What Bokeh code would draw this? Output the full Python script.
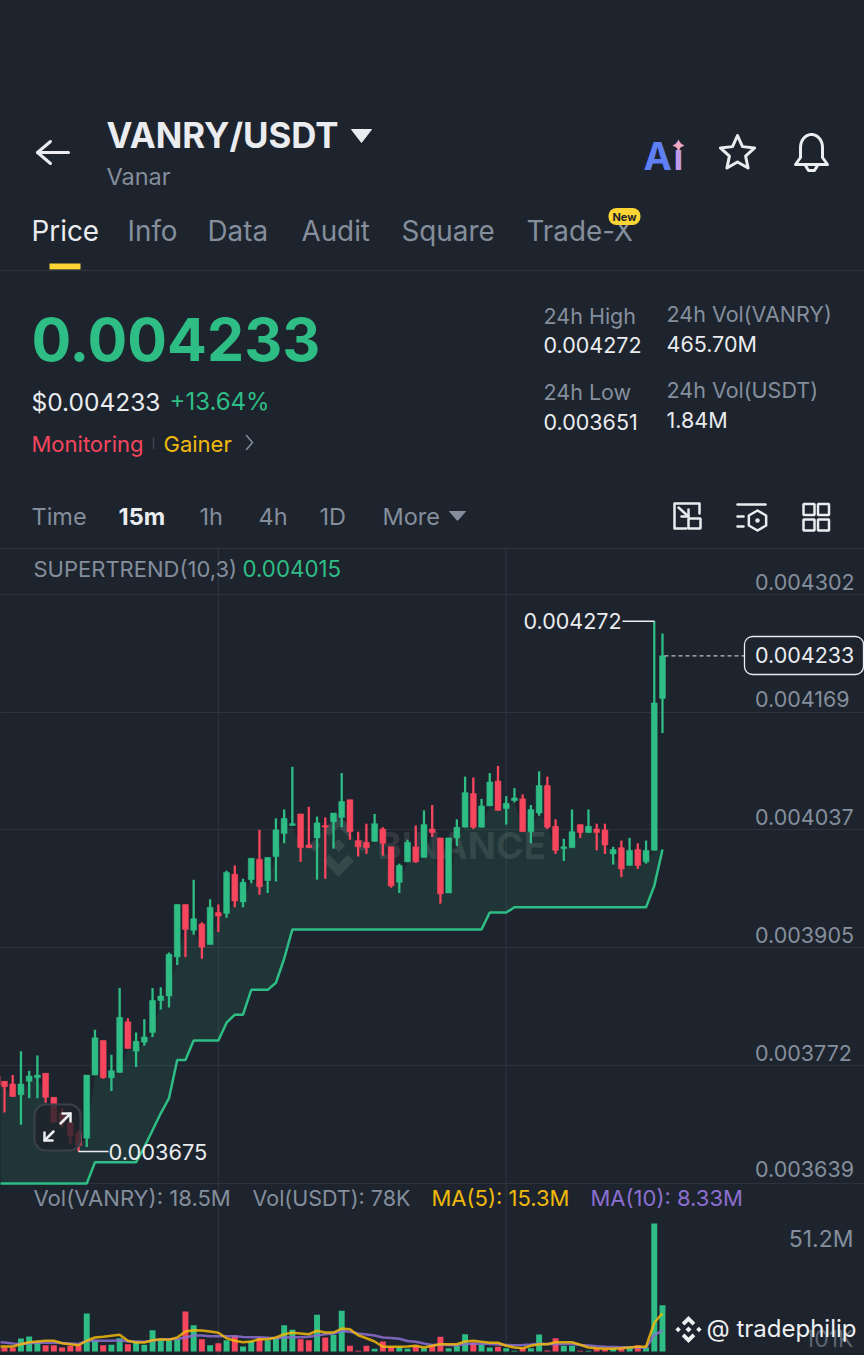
import numpy as np
from bokeh.plotting import figure
from bokeh.models import Range1d, ColumnDataSource, Grid, FixedTicker, GlobalInlineStyleSheet
from bokeh.core.properties import value
from bokeh.embed import file_html
from bokeh.resources import INLINE

# prices are in millionths of USDT, candle -1 lies just off the left edge
opens = [3760,3754,3751,3739,3754,3758,3763,3736,3718,3708,3696,3690,3761,3800,3758,3764,3821,3788,3798,3809,3845,3850,3894,3953,3924,3931,3908,3944,3943,3987,3956,3981,4004,3980,4007,4033,4042,4055,4020,4028,4042,4046,4051,4071,4025,4023,4024,4038,4018,3978,4001,4018,4006,4038,4028,3966,4028,4040,4078,4040,4064,4092,4061,4070,4072,4035,4056,4087,4041,4016,4017,4043,4034,4038,4037,4010,4017,3997,4015,4001,4014,4185]
highs = [3770,3754,3761,3788,3766,3783,3763,3736,3724,3708,3699,3761,3812,3800,3784,3859,3825,3809,3824,3859,3860,3899,3953,3953,3981,3933,3959,3953,3991,3997,3982,4005,4037,4006,4050,4060,4108,4055,4063,4052,4051,4056,4101,4071,4035,4044,4055,4040,4018,3999,4026,4042,4059,4065,4028,4028,4049,4097,4096,4072,4101,4109,4075,4084,4077,4065,4103,4097,4049,4027,4060,4043,4060,4044,4044,4018,4025,4028,4022,4025,4272,4258]
lows = [3745,3719,3737,3705,3735,3735,3730,3708,3702,3684,3675,3680,3761,3757,3743,3764,3791,3770,3794,3804,3835,3837,3885,3894,3919,3892,3908,3922,3938,3950,3950,3977,3964,3966,3979,4022,4042,4001,4017,3981,3982,4016,4040,4026,4007,4010,4024,4008,3972,3966,4001,4000,4006,4029,3954,3966,4019,4040,4038,4040,4064,4059,4043,4068,4035,4022,4053,4038,4010,4002,4017,4028,4034,4014,4010,3998,3984,3997,3993,3999,4014,4146]
closes = [3750,3748,3737,3751,3760,3761,3736,3708,3707,3693,3682,3761,3803,3758,3766,3826,3791,3799,3804,3845,3850,3897,3953,3925,3937,3905,3950,3940,3989,3957,3978,4005,3973,4006,4037,4050,4044,4017,4017,4045,4040,4056,4069,4035,4018,4017,4044,4022,3974,3997,4023,4001,4043,4034,3965,4028,4040,4079,4040,4064,4091,4059,4067,4073,4035,4060,4087,4040,4014,4018,4035,4034,4041,4034,4020,4015,3993,4014,3997,4014,4180,4233]
supertrend = [3639]*12 + [3663]*6 + [3680,3699,3718,3735,3778,3778,3800,3800,3800,3800,3820,3829,3829,3857,3857,3857,3865,3892] + [3925]*24 + [3944]*3 + [3950]*17 + [3974,4015]
# volume in millions of VANRY
volumes = [1.6,1.6,1.6,5.2,6.0,3.9,2.5,2.5,1.6,2.3,2.5,15.2,4.5,2.5,2.7,5.3,2.9,3.9,2.7,8.5,4.5,4.3,4.9,16.0,10.5,4.9,2.5,3.3,4.5,6.3,2.0,4.3,5.3,4.5,5.3,10.5,8.7,4.9,4.5,14.7,5.6,6.7,16.3,2.3,0.3,2.3,1.1,4.0,1.9,1.9,1.1,2.3,1.3,2.3,5.9,1.3,2.3,6.9,3.6,2.7,1.6,1.9,1.3,0.3,1.3,1.3,6.8,0.4,5.3,2.3,2.3,0.3,0.3,1.3,0.9,1.3,1.3,1.3,2.5,1.6,51.2,18.5]
ma5 = [2.0,2.0,2.0,2.9,3.7,4.0,4.3,4.3,3.3,2.9,2.5,4.3,5.6,5.9,6.3,6.7,4.3,3.6,3.6,4.5,4.9,4.7,5.6,8.0,8.5,8.4,8.0,7.5,5.3,4.3,3.7,4.0,4.9,4.9,5.6,6.9,7.5,7.2,6.9,8.3,7.6,7.6,9.2,8.9,6.5,5.3,4.0,1.9,1.9,1.9,2.0,2.3,1.6,2.3,2.9,2.9,2.9,4.0,4.3,3.9,3.5,3.5,2.3,1.6,1.3,2.3,2.9,2.9,3.7,3.7,3.7,2.7,1.6,1.3,1.1,1.1,1.3,1.6,1.9,1.9,11.5,15.3]
ma10 = [3.7,3.6,3.2,3.0,3.3,3.5,3.5,3.5,3.4,3.2,3.0,4.2,4.3,4.3,4.3,4.5,4.0,4.0,3.9,4.3,4.8,4.9,5.0,5.6,6.4,6.4,6.1,6.1,6.1,6.1,5.8,5.7,5.7,5.5,5.3,5.6,5.7,5.7,5.9,6.4,6.9,7.2,8.2,7.9,7.2,6.8,6.4,5.6,5.4,5.1,4.2,3.9,3.2,2.6,2.8,2.5,2.5,3.0,3.1,3.2,3.0,2.8,2.6,2.5,2.6,2.8,3.1,3.0,2.9,3.0,3.0,2.6,2.4,2.1,1.9,1.8,1.7,1.7,1.6,1.6,6.6,8.33]
price_ticks = [4302, 4169, 4037, 3905, 3772, 3639]
price_labels = ["0.004302", "0.004169", "0.004037", "0.003905", "0.003772", "0.003639"]
time_grid = [26, 61]
tabs = ["Price", "Info", "Data", "Audit", "Square", "Trade-X"]
periods = ["Time", "15m", "1h", "4h", "1D", "More"]

BG = "#1e242e"; GREEN = "#2ebd85"; RED = "#f6465d"; GRID = "#2c333d"
WHITE = "#eaecef"; GREY = "#848e9c"; YEL = "#f0b90b"; PUR = "#8c6fd0"
FONT = "Inter"

idx = np.arange(-1, len(opens) - 1)
p = figure(width=864, height=1355, output_backend="svg", toolbar_location=None,
           x_axis_location=None, y_axis_location=None, min_border=0,
           x_range=Range1d(-0.486, 104.56), y_range=Range1d(3445.4, 4970.6),
           background_fill_color=BG, border_fill_color=BG, outline_line_color=None)
p.grid.visible = False
p.extra_x_ranges = {"px": Range1d(0, 864)}
p.extra_y_ranges = {"py": Range1d(1355, 0), "vol": Range1d(-1.6, 540.4)}
p.stylesheets = [GlobalInlineStyleSheet(css="html,body{margin:0;padding:0;background:%s;overflow:hidden}" % BG)]
PX = dict(x_range_name="px", y_range_name="py")


def label(x, y, s, size, color=GREY, style="normal", align="left", font=FONT):
    if align == "left":
        x = x - 1
    p.text(x=[x], y=[y - 1], text=[s], text_font=value(font), text_font_size=f"{size}px", text_color=color,
           text_font_style=style, text_align=align, text_baseline="middle", **PX)


def poly(xs, ys, fill=None, line=None, width=2.5, alpha=1.0):
    p.patch(x=list(xs), y=list(ys), fill_color=fill, line_color=line, line_width=width,
            fill_alpha=alpha if fill else 0, line_join="round", **PX)


def path(xs, ys, color=WHITE, width=3):
    p.line(x=list(xs), y=list(ys), line_color=color, line_width=width, line_cap="round", line_join="round", **PX)


def rrect(cx, cy, w, h, fill=None, line=None, width=1.5, alpha=1.0, radius=None):
    p.block(x=[cx - w / 2], y=[cy + h / 2], width=[w], height=[h], fill_color=fill, fill_alpha=alpha if fill else 0,
            line_color=line, line_width=width, border_radius=radius if radius else 0, **PX)


def logo(cx, cy, s, color, alpha=1.0):
    for sign in (-1, 1):
        poly([cx, cx + 0.5 * s, cx + 0.3 * s, cx, cx - 0.3 * s, cx - 0.5 * s],
             [cy + sign * s, cy + sign * 0.5 * s, cy + sign * 0.3 * s, cy + sign * 0.6 * s, cy + sign * 0.3 * s, cy + sign * 0.5 * s],
             fill=color, alpha=alpha)
        poly([cx + sign * 0.97 * s, cx + sign * 0.77 * s, cx + sign * 0.57 * s, cx + sign * 0.77 * s],
             [cy, cy - 0.2 * s, cy, cy + 0.2 * s], fill=color, alpha=alpha)
    poly([cx - 0.22 * s, cx, cx + 0.22 * s, cx], [cy, cy - 0.22 * s, cy, cy + 0.22 * s], fill=color, alpha=alpha)


# ---------- header ----------
path([68, 37], [152, 152]); path([50, 37, 50], [141, 152, 163])
label(107, 135, "VANRY/USDT", 34.8, WHITE, "bold")
poly([351, 371, 361], [129, 129, 142], fill=WHITE, line=WHITE, width=1)
label(107, 177, "Vanar", 23.5)
label(644, 156, "A", 38, "#5f80f5", "bold")
label(674, 157, "i", 36, "#c09ae8", "bold")
poly([678, 680, 684, 680, 678, 676, 672, 676], [139, 143, 145, 147, 151, 147, 145, 143], fill="#f0a8c0", line=None)
a = np.arange(11) * np.pi / 5 - np.pi / 2
r = np.where(np.arange(11) % 2 == 0, 18, 8.5)
path(737 + r * np.cos(a), 153 + r * np.sin(a), width=3)
t = np.linspace(np.pi, 0, 20)
path(np.r_[795, 800, 800 + 11 + 11 * np.cos(t), 822, 827, 795],
     np.r_[164, 157, 147 + 13 * np.sin(t) * -1, 157, 164, 164], width=3)
path([805, 808, 814, 817], [165, 170, 170, 165], width=3)
for t_, x_ in zip(tabs, [32, 128, 208, 302, 402, 527]):
    label(x_, 231, t_, 27.8, WHITE if t_ == "Price" else GREY)
rrect(624, 216, 32, 17, fill="#fcd535", radius=8)
label(624, 217, "New", 11, "#1e2329", "bold", "center")
rrect(64.5, 266, 31, 6, fill="#fcd535")
p.segment(x0=[0, 0], x1=[864, 864], y0=[270, 548], y1=[270, 548], line_color=GRID, line_width=1.5, **PX)

# ---------- price block ----------
label(32, 340, "0.004233", 59, GREEN, "bold")
label(32, 402, "$0.004233", 24.5, WHITE)
label(170, 402, "+13.64%", 24, GREEN)
label(32, 444, "Monitoring", 22, RED)
label(164, 444, "Gainer", 22, YEL)
path([153, 153], [437, 448], color="#3a424d", width=1.5)
path([246, 252, 246], [435, 442, 449], color=GREY, width=1.5)
label(544, 316, "24h High", 21.5)
label(544, 345, "0.004272", 21.5, WHITE)
label(544, 392, "24h Low", 21.5)
label(544, 422, "0.003651", 21.5, WHITE)
label(667, 314, "24h Vol(VANRY)", 21.5)
label(667, 344, "465.70M", 21.5, WHITE)
label(667, 390, "24h Vol(USDT)", 21.5)
label(667, 420, "1.84M", 21.5, WHITE)

# ---------- period bar ----------
for t_, x_ in zip(periods, [32, 119, 200, 259, 320, 383]):
    label(x_, 517, t_, 23.5, WHITE if t_ == "15m" else GREY, "bold" if t_ == "15m" else "normal")
poly([449, 465, 457], [511, 511, 520], fill=GREY, line=GREY, width=1)
path([686, 686, 674, 674, 699, 699], [528, 528, 528, 503, 503, 513], width=2.5)
path([678, 688], [507, 516], width=2.5); path([688, 688, 681], [509, 516, 516], width=2.5)
rrect(694, 523, 12, 10, line=WHITE, width=2.5)
path([737, 765], [504, 504], width=2.5); path([737, 743], [516, 516], width=2.5); path([737, 743], [526, 526], width=2.5)
h = np.arange(7) * np.pi / 3 - np.pi / 2
path(757 + 10 * np.cos(h), 520 + 10 * np.sin(h), width=2.5)
p.scatter(x=[757], y=[520], size=4.5, marker="circle", fill_color=WHITE, line_color=None, **PX)
for cx_ in (808.5, 823):
    for cy_ in (509, 524.5):
        rrect(cx_, cy_, 11, 11, line=WHITE, width=2.5)

# ---------- chart ----------
p.add_layout(Grid(dimension=1, ticker=FixedTicker(ticks=price_ticks), grid_line_color=GRID, grid_line_width=1.2))
p.segment(x0=time_grid, x1=time_grid, y0=[548, 548], y1=[1355, 1355], line_color=GRID, line_width=1.2, y_range_name="py")
label(34, 569, "SUPERTREND(10,3)", 22)
label(243, 569, "0.004015", 22.3, GREEN)

fill_top = np.minimum(opens, closes).astype(float)
fill_top[-1] = supertrend[-1]
p.varea(x=idx, y1=supertrend, y2=fill_top, fill_color=GREEN, fill_alpha=0.11)
p.line(x=idx, y=supertrend, line_color=GREEN, line_width=2.5)

p.text(x=[461], y=[845], text=["BINANCE"], text_font=value(FONT), text_font_size="37px", text_color="#ffffff",
       text_alpha=0.1, text_font_style="bold", text_align="center", text_baseline="middle", **PX)
logo(338, 845, 31, "#ffffff", 0.1)

colors = [GREEN if c >= o else RED for o, c in zip(opens, closes)]
src = ColumnDataSource(dict(x=idx, o=opens, h=highs, l=lows, c=closes, v=volumes, color=colors))
p.segment(x0="x", x1="x", y0="l", y1="h", line_color="color", line_width=2.3, source=src)
p.vbar(x="x", width=0.72, bottom="o", top="c", fill_color="color", line_color="color", line_width=0.5, source=src)

for y_, s_ in zip([582, 699, 817, 935, 1053, 1169], price_labels):
    label(755.5, y_, s_, 21.5)

# last-price tag and extremes
p.line(x=[664, 744], y=[4233, 4233], line_color="#b7bdc6", line_width=1.3, line_dash="4 3", x_range_name="px")
rrect(803.5, 655, 119, 38, fill=BG, line=WHITE, width=1.3, radius=8)
label(755.5, 655, "0.004233", 21.5, WHITE)
p.line(x=[622, 654], y=[4272, 4272], line_color=WHITE, line_width=1.5, x_range_name="px")
label(524, 621, "0.004272", 21.5, WHITE)
p.line(x=[78, 108], y=[3675, 3675], line_color=WHITE, line_width=1.5, x_range_name="px")
label(109, 1152, "0.003675", 21.8, WHITE)

# expand button
rrect(57, 1127, 46, 46, fill="#1e2329", line="#3a4048", width=2, alpha=0.78, radius=11)
path([44, 53], [1140, 1131], width=2.5); path([44, 44, 52], [1132, 1140, 1140], width=2.5)
path([60, 70], [1123, 1113], width=2.5); path([62, 70, 70], [1113, 1113, 1121], width=2.5)

# ---------- volume ----------
label(34, 1198, "Vol(VANRY): 18.5M", 22.1)
label(253, 1198, "Vol(USDT): 78K", 21.5)
label(432, 1198, "MA(5): 15.3M", 22, YEL)
label(591, 1198, "MA(10): 8.33M", 22, PUR)
label(853, 1239, "51.2M", 23, GREY, "normal", "right")
label(853, 1339, "101K", 23, "#5c6570", "normal", "right")
p.vbar(x="x", width=0.72, bottom=0, top="v", fill_color="color", line_color=None, y_range_name="vol", source=src)
p.line(x=idx, y=ma10, line_color=PUR, line_width=2.5, line_alpha=0.85, y_range_name="vol")
p.line(x=idx, y=ma5, line_color=YEL, line_width=2.5, line_alpha=0.85, y_range_name="vol")

# ---------- watermark ----------
label(707, 1329, "@ tradephilip", 24, "#eef0f2")
logo(688, 1329, 13.5, "#eef0f2")

open("out.html", "w").write(file_html(p, INLINE))
